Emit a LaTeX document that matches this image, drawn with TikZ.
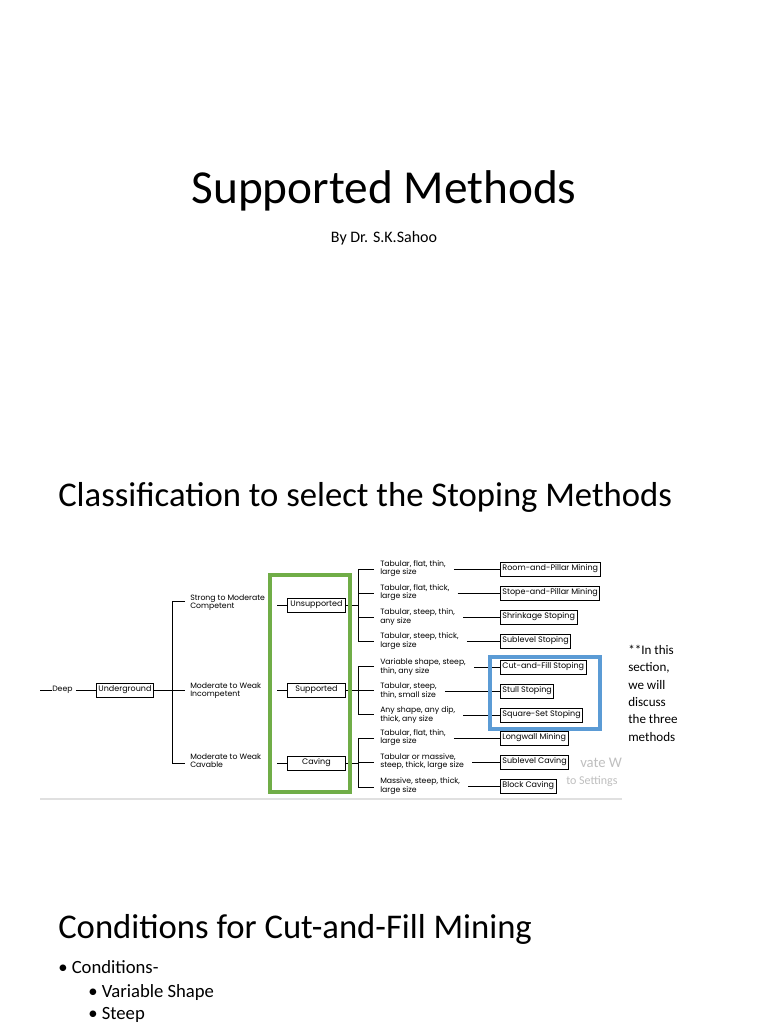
\documentclass[tikz,border=0pt]{standalone}
\usepackage{fontspec}
\setmainfont{Carlito}
\newfontfamily\dgm{Poppins}
\begin{document}
\begin{tikzpicture}[x=0.75pt,y=-0.75pt,
  bx/.style={draw,line width=0.6pt,inner sep=1.5pt,font=\dgm\fontsize{6}{6.5}\selectfont,anchor=west,minimum height=14*0.75pt},
  lb/.style={font=\dgm\fontsize{5.8}{5.9}\selectfont,align=left,anchor=west,inner sep=0pt},
  ln/.style={line width=0.5pt}]
\useasboundingbox (0,0) rectangle (768,1024);
\fill[white] (0,0) rectangle (768,1024);
\node (title) at (384,191) {\fontsize{35.5}{40}\selectfont Supported Methods};
\node (by) at (384,238) {\fontsize{12}{14}\selectfont By Dr. S.K.Sahoo};
\node[anchor=west,inner sep=0pt] (cls) at (58,497) {\fontsize{26}{30}\selectfont Classification to select the Stoping Methods};
\node[anchor=west,inner sep=0pt] (cond) at (58,929) {\fontsize{26}{30}\selectfont Conditions for Cut-and-Fill Mining};
\node[anchor=west,inner sep=0pt] (c1) at (58,967) {\fontsize{14}{16}\selectfont • Conditions-};
\node[anchor=west,inner sep=0pt] (c2) at (88,993) {\fontsize{14}{16}\selectfont • Variable Shape};
\node[anchor=west,inner sep=0pt] (c3) at (88,1015) {\fontsize{14}{16}\selectfont • Steep};
\node[anchor=north west,align=left,inner sep=0pt,font=\fontsize{9.8}{13}\selectfont] (note) at (628,645) {**In this\\section,\\we will\\discuss\\the three\\methods};
\node[anchor=west,inner sep=0pt,text=black!25,font=\fontsize{11}{13}\selectfont] (wm1) at (580,763) {vate W};
\node[anchor=west,inner sep=0pt,text=black!25,font=\fontsize{9}{11}\selectfont] (wm2) at (566,781) {to Settings};
\draw[black!12,line width=1pt] (40,799) -- (622,799);
\node[lb] (deep) at (52,690) {Deep};
\coordinate (d0) at (40,690);
\draw[ln] (d0) -- (deep.west);
\node[bx] (ug) at (96,690) {Underground};
\draw[ln] (deep.east)++(3,0) -- (ug.west);
\coordinate (v1) at (172,690);
\draw[ln] (ug.east) -- (v1);
\node[lb] (t1) at (190,603) {Strong to Moderate\\Competent};
\node[lb] (t2) at (190,691) {Moderate to Weak\\Incompetent};
\node[lb] (t3) at (190,761) {Moderate to Weak\\Cavable};
\draw[ln] (185,601) -- (172,601) -- (172,763) -- (185,763);
\draw[ln] (v1) -- (185,690);
\node[bx,minimum width=58*0.75pt] (uns) at (287,605) {Unsupported};
\node[bx,minimum width=58*0.75pt] (sup) at (287,690) {Supported};
\node[bx,minimum width=58*0.75pt] (cav) at (287,763) {Caving};
\draw[ln] (277,605) -- (uns.west);
\draw[ln] (277,690) -- (sup.west);
\draw[ln] (277,763) -- (cav.west);
\foreach \b/\ya/\yb/\ym in {uns/569/641/605,sup/666/714/690,cav/738/787/763}{
  \draw[ln] (\b.east) -- (358,\ym);
  \draw[ln] (374,\ya) -- (358,\ya) -- (358,\yb) -- (374,\yb);
}
\draw[ln] (358,593) -- (374,593);
\draw[ln] (358,617) -- (374,617);
\draw[ln] (358,690) -- (374,690);
\draw[ln] (358,762) -- (374,762);
\foreach \n/\y/\t/\bt in {
 a/569/{Tabular, flat, thin,\\large size}/{Room-and-Pillar Mining},
 b/593/{Tabular, flat, thick,\\large size}/{Stope-and-Pillar Mining},
 c/617/{Tabular, steep, thin,\\any size}/{Shrinkage Stoping},
 d/641/{Tabular, steep, thick,\\large size}/{Sublevel Stoping},
 e/667/{Variable shape, steep,\\thin, any size}/{Cut-and-Fill Stoping},
 f/691/{Tabular, steep,\\thin, small size}/{Stull Stoping},
 g/715/{Any shape, any dip,\\thick, any size}/{Square-Set Stoping},
 h/738/{Tabular, flat, thin,\\large size}/{Longwall Mining},
 i/762/{Tabular or massive,\\steep, thick, large size}/{Sublevel Caving},
 j/786/{Massive, steep, thick,\\large size}/{Block Caving}}{
  \node[lb] (t\n) at (380,\y) {\t};
  \node[bx,fill=white] (m\n) at (500,\y) {\bt};
  \draw[ln] ([xshift=8*0.75pt]t\n.east |- m\n.west) -- (m\n.west);
}
\draw[line width=2.5pt,color={rgb,255:red,112;green,173;blue,71}] (270,575) rectangle (350,792);
\draw[line width=2.5pt,color={rgb,255:red,91;green,155;blue,213}] (490,657) rectangle (600,729);
\end{tikzpicture}
\end{document}
